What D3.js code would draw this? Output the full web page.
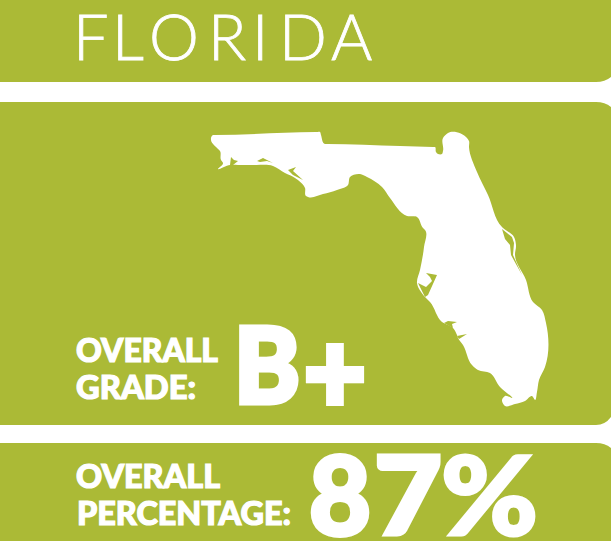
<!DOCTYPE html>
<html>
<head>
<meta charset="utf-8">
<script src="https://d3js.org/d3.v7.min.js"></script>
<style>
  html, body { margin: 0; padding: 0; background: #fff; }
  svg { display: block; }
</style>
</head>
<body>
<svg id="card" width="611" height="541"></svg>
<script>
const stateName = "FLORIDA";
const gradeLabel = ["OVERALL", "GRADE:"];
const percentLabel = ["OVERALL", "PERCENTAGE:"];
const overallGrade = "B+";
const overallPercent = 87;

// state silhouette, in map units
const stateOutline = [
  [0,7],[0,5],[2,2],[4,2],[105,-1],[109,-1],[110,2],[114,11],[116,11],[189,13],[222,14],[224,14],[225,19],[227,21],[231,21],[232,18],[232,5],[237,0],[256,5],[258,8],[258,14],
  [266,39],[277,62],[291,94],[292,95],[303,104],[305,112],[304,122],[315,147],[322,169],[331,177],
  [335,190],[334,234],[328,247],[326,259],[324,267],[321,263],[314,268],[304,271],[294,273],
  [291,267],[294,263],[301,265],[289,254],[279,240],[267,237],[261,232],[252,212],[247,205],
  [246,202],[242,195],[231,189],[219,169],[214,164],[206,150],[209,137],[213,114],[214,97],[212,95],
  [206,84],[196,83],[179,65],[171,54],[156,44],[149,41],[139,44],[137,52],[126,57],[112,61],[97,64],
  [95,63],[94,55],[84,45],[74,40],[62,33],[44,32],[27,32],[19,32],[7,36],[12,30],[10,27],[9,18],[6,15]
];
// bays and lagoons, sharp edged
const stateInlets = [
  [[291,96],[296,100],[301,104],[303,110],[302,122],[311,142],[300,122],[299,112],[294,106]],
  [[214,164],[217,162],[226,142],[215,140],[219,144],[221,148],[215,154],[207,150]],
  [[233,190],[237,188],[246,189],[241,191],[242,195]],
  [[246,203],[256,201],[248,206]],
  [[19,32],[20,24],[23,27],[27,28],[22,32]],
  [[46,28],[52,25],[62,30],[56,28],[49,29]],
  [[77,37],[85,34],[82,38],[92,47],[82,42]]
];

const bandColor = "#abba36";
const markColor = "#ffffff";
const width = 611;
const cardFont = "Lato, 'Open Sans', sans-serif";

const svg = d3.select("#card");

// green bands, the right ends flare away from the white gaps
function band(top, bottom, liftTop, liftBottom) {
  const p = d3.path();
  p.moveTo(0, top);
  if (liftTop) {
    p.lineTo(width - 15, top);
    p.quadraticCurveTo(width - 6, top, width, top + liftTop);
  } else {
    p.lineTo(width, top);
  }
  if (liftBottom) {
    p.lineTo(width, bottom - liftBottom);
    p.quadraticCurveTo(width - 6, bottom, width - 15, bottom);
  } else {
    p.lineTo(width, bottom);
  }
  p.lineTo(0, bottom);
  p.closePath();
  return p.toString();
}

svg.append("path").attr("d", band(-20, 82, 0, 5)).attr("fill", bandColor);
svg.append("path").attr("d", band(102, 425, 5, 8)).attr("fill", bandColor);
svg.append("path").attr("d", band(443, 561, 5, 0)).attr("fill", bandColor);

// map
const x = d3.scaleLinear().domain([0, 335]).range([211, 546]);
const y = d3.scaleLinear().domain([0, 273]).range([133, 406]);
const outline = d3.line().x(d => x(d[0])).y(d => y(d[1])).curve(d3.curveCatmullRomClosed.alpha(1));
const inletLine = d3.line().x(d => x(d[0])).y(d => y(d[1])).curve(d3.curveLinearClosed);

svg.append("path")
  .attr("d", outline(stateOutline))
  .attr("fill", markColor);

svg.selectAll(".inlet")
  .data(stateInlets)
  .enter()
  .append("path")
  .attr("class", "inlet")
  .attr("d", inletLine)
  .attr("fill", bandColor);

// text, each fitted to its width in the picture, stroked to get the heavy cut
function label(text, left, baseline, size, fitWidth, heft) {
  return svg.append("text")
    .attr("x", left)
    .attr("y", baseline)
    .attr("font-family", cardFont)
    .attr("font-size", size)
    .attr("font-weight", 900)
    .attr("fill", markColor)
    .attr("stroke", markColor)
    .attr("stroke-width", heft)
    .attr("stroke-linejoin", "miter")
    .attr("textLength", fitWidth)
    .attr("lengthAdjust", "spacingAndGlyphs")
    .text(text);
}

// wide tracking on the title, one x per letter
svg.append("text")
  .attr("x", "73 112 149 208 252 279 331")
  .attr("y", 60)
  .attr("font-family", cardFont)
  .attr("font-size", 63)
  .attr("font-weight", 300)
  .attr("fill", markColor)
  .attr("stroke", markColor)
  .attr("stroke-width", 0.8)
  .text(stateName);

label(gradeLabel[0], 76, 362, 32, 142, 1.2);
label(gradeLabel[1], 76, 399, 32, 120, 1.2);
label(overallGrade[0], 234, 403, 104, 66, 5);
label(overallGrade[1], 304, 412, 112, 62, 6);

label(percentLabel[0], 76, 488, 32, 144, 1.2);
label(percentLabel[1], 77, 525, 32, 214, 1.2);

const percentText = overallPercent + "%";
label(percentText[0], 309, 535, 108, 62, 4);
label(percentText[1], 374, 535, 108, 68, 4);
label(percentText[2], 441, 535, 108, 97, 3);
</script>
</body>
</html>
